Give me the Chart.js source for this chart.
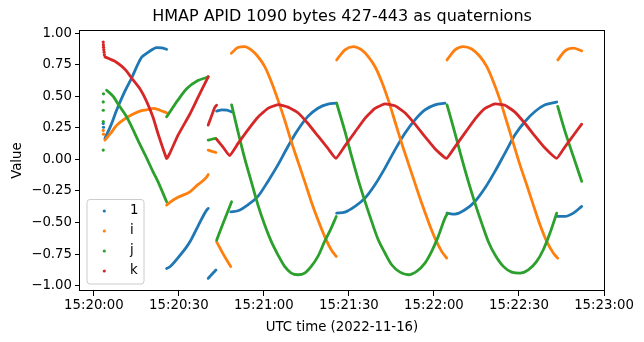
<!DOCTYPE html>
<html><head><meta charset="utf-8">
<script src="https://cdn.jsdelivr.net/npm/chart.js@4/dist/chart.umd.min.js"></script>
<style>html,body{margin:0;padding:0;background:#fff;overflow:hidden}</style>
</head><body>
<canvas id="c" width="644" height="342"></canvas>
<script>
// ---- data (seconds after 15:20:00 UTC, value); null = gap between runs ----
const seriesNames = ['1', 'i', 'j', 'k'];
const seriesColors = ['#1f77b4', '#ff7f0e', '#2ca02c', '#d62728'];
const xTickValues = [0, 30, 60, 90, 120, 150, 180];
const xTickLabels = ['15:20:00', '15:20:30', '15:21:00', '15:21:30', '15:22:00', '15:22:30', '15:23:00'];
const yTickValues = [-1, -0.75, -0.5, -0.25, 0, 0.25, 0.5, 0.75, 1];
const yTickLabels = ['\u22121.00', '\u22120.75', '\u22120.50', '\u22120.25', '0.00', '0.25', '0.50', '0.75', '1.00'];

const oneT = [3.3, null, 3.4, null,
  3.88, 6.0, 8.01, 10.5, 13.31, 16.84, 18.6, 20.93, 22.13, 23.9, 25.66, null,
  25.66, 26.82, 29.65, 32.72, 33.88, 36.7, 39.78, 40.34, null,
  40.34, 41.65, 43.06, null,
  43.31, 45.18, 46.9, 48.6, null,
  48.3, 50.82, 54.35, 57.88, 61.41, 64.94, 68.47, 72.0, 75.53, 79.06, 82.59, 85.52, null,
  85.66, 88.59, 92.12, 95.65, 99.18, 102.71, 106.24, 109.76, 113.29, 116.82, 120.35, 123.88, null,
  124.6, 127.41, 130.94, 134.47, 138.0, 141.53, 145.06, 148.59, 152.12, 155.65, 159.18, 163.31, null,
  163.4, 166.24, 169.17, 172.13];
const oneV = [0.285, null, 0.255, null,
  0.166, 0.27, 0.39, 0.52, 0.645, 0.81, 0.84, 0.875, 0.887, 0.885, 0.873, null,
  -0.864, -0.851, -0.78, -0.693, -0.653, -0.53, -0.402, -0.388, null,
  -0.943, -0.91, -0.877, null,
  0.383, 0.393, 0.39, 0.377, null,
  -0.415, -0.407, -0.36, -0.293, -0.174, -0.043, 0.103, 0.235, 0.341, 0.406, 0.438, 0.446, null,
  -0.426, -0.418, -0.372, -0.307, -0.201, -0.069, 0.076, 0.208, 0.314, 0.393, 0.433, 0.446, null,
  -0.426, -0.433, -0.399, -0.333, -0.227, -0.095, 0.05, 0.195, 0.301, 0.38, 0.433, 0.455, null,
  -0.452, -0.452, -0.426, -0.372];

const iT = [3.3, null, 3.4, null,
  3.88, 6.0, 8.01, 11.5, 13.87, 16.5, 19.76, 20.93, 23.29, 25.66, null,
  25.66, 26.82, 29.65, 33.88, 36.7, 39.78, 40.34, null,
  40.34, 43.06, null,
  43.31, 45.5, 48.3, null,
  48.5, 50.82, 53.19, 55.52, 57.88, 60.25, 62.58, 64.94, 67.31, 69.64, 72.0, 74.37, 76.69, 79.06, 81.42, 83.75, 85.52, null,
  85.66, 88.59, 91.52, 94.48, 96.81, 99.18, 101.54, 103.87, 106.24, 108.6, 110.93, 113.29, 115.66, 117.99, 120.35, 122.72, 124.48, null,
  124.6, 127.41, 130.34, 133.31, 136.24, 138.6, 140.93, 143.29, 145.66, 147.99, 150.35, 152.72, 155.05, 157.41, 159.78, 162.11, 163.66, null,
  163.7, 166.24, 169.17, 172.13];
const iV = [0.23, null, 0.2, null,
  0.153, 0.21, 0.27, 0.33, 0.36, 0.385, 0.398, 0.404, 0.39, 0.37, null,
  -0.362, -0.34, -0.3, -0.257, -0.2, -0.14, -0.12, null,
  0.074, 0.055, null,
  -0.653, -0.745, -0.85, null,
  0.842, 0.887, 0.895, 0.869, 0.816, 0.737, 0.618, 0.472, 0.314, 0.143, -0.016, -0.174, -0.333, -0.479, -0.61, -0.716, -0.769, null,
  0.789, 0.869, 0.895, 0.869, 0.816, 0.737, 0.618, 0.472, 0.301, 0.129, -0.029, -0.188, -0.346, -0.491, -0.624, -0.729, -0.782, null,
  0.789, 0.869, 0.895, 0.876, 0.816, 0.737, 0.618, 0.472, 0.301, 0.129, -0.043, -0.201, -0.36, -0.518, -0.65, -0.742, -0.782, null,
  0.789, 0.861, 0.882, 0.861];

const jT = [3.3, null, 3.3, null, 3.3, null, 3.3, null, 3.4, null,
  4.48, 6.81, 8.5, 11.54, 13.3, 16.24, 18.0, 20.93, 22.69, 25.66, null,
  25.66, 26.82, 29.65, 32.72, 36.7, 39.78, 40.34, null,
  40.34, 41.65, 43.06, null,
  43.31, 45.88, 48.6, null,
  48.6, 50.82, 53.19, 55.52, 57.88, 60.25, 62.58, 64.94, 67.31, 69.64, 72.0, 74.37, 76.69, 79.06, 81.42, 83.75, 85.52, null,
  85.66, 88.59, 90.95, 93.28, 95.65, 98.01, 100.34, 102.71, 105.07, 108.0, 110.93, 113.89, 116.82, 119.19, 121.52, 123.88, 124.84, null,
  124.6, 127.41, 129.78, 132.11, 134.47, 136.84, 139.16, 141.53, 144.46, 147.42, 150.35, 153.28, 156.25, 158.58, 160.94, 163.31, null,
  163.66, 166.24, 169.17, 172.13];
const jV = [0.456, null, 0.39, null, 0.3, null, 0.074, null, 0.52, null,
  0.549, 0.5, 0.44, 0.338, 0.26, 0.12, 0.04, -0.1, -0.18, -0.336, null,
  0.338, 0.377, 0.47, 0.56, 0.625, 0.65, 0.655, null,
  0.153, 0.16, 0.166, null,
  -0.64, -0.49, -0.336, null,
  0.433, 0.222, 0.01, -0.174, -0.36, -0.518, -0.65, -0.756, -0.848, -0.901, -0.914, -0.901, -0.848, -0.769, -0.65, -0.544, -0.452, null,
  0.446, 0.222, 0.024, -0.162, -0.333, -0.491, -0.637, -0.742, -0.835, -0.893, -0.914, -0.887, -0.822, -0.729, -0.61, -0.465, -0.426, null,
  0.433, 0.208, 0.01, -0.174, -0.346, -0.505, -0.65, -0.756, -0.848, -0.893, -0.901, -0.875, -0.808, -0.716, -0.584, -0.426, null,
  0.42, 0.222, 0.024, -0.174];

const kT = [3.3, null, 3.35, null, 3.4, null, 3.5, null, 3.6, null, 3.7, null,
  3.88, 7.41, 9.78, 11.54, 13.31, 16.24, 18.6, 20.93, 22.69, 25.66, 26.82, 29.65, 33.88, 36.7, 40.34, null,
  40.34, 42.6, 43.3, null,
  43.31, 45.5, 47.89, 50.82, 54.35, 57.88, 61.41, 64.94, 68.47, 72.0, 75.53, 79.06, 82.59, 85.4,
  88.59, 92.12, 95.65, 99.18, 102.71, 106.24, 109.76, 113.29, 116.82, 120.35, 124.4,
  127.41, 130.94, 134.47, 138.0, 141.53, 145.06, 148.59, 152.12, 155.65, 159.18, 163.3,
  166.24, 169.17, 172.13];
const kV = [0.93, null, 0.91, null, 0.89, null, 0.87, null, 0.85, null, 0.83, null,
  0.813, 0.779, 0.74, 0.7, 0.645, 0.56, 0.46, 0.33, 0.2, 0.008, 0.05, 0.19, 0.36, 0.49, 0.655, null,
  0.272, 0.41, 0.43, null,
  0.16, 0.1, 0.03, 0.125, 0.235, 0.335, 0.405, 0.435, 0.415, 0.37, 0.285, 0.186, 0.087, 0.008,
  0.107, 0.217, 0.326, 0.405, 0.44, 0.425, 0.37, 0.28, 0.18, 0.085, 0.008,
  0.1, 0.21, 0.32, 0.405, 0.44, 0.43, 0.375, 0.285, 0.185, 0.09, 0.008,
  0.1, 0.19, 0.28];

const seriesT = [oneT, iT, jT, kT];
const seriesV = [oneV, iV, jV, kV];

// ---- build ----
function toPoints(ts, vs) {
  let last = 0;
  return ts.map((t, i) => {
    if (t === null || vs[i] === null) return { x: last, y: null };
    last = t;
    return { x: t, y: vs[i] };
  });
}
function isolated(pts, i) {
  const p = pts[i];
  if (!p || p.y === null) return false;
  const a = pts[i - 1], b = pts[i + 1];
  return (!a || a.y === null) && (!b || b.y === null);
}

const FONT = 'DejaVu Sans';
const datasets = seriesNames.map((name, s) => {
  const pts = toPoints(seriesT[s], seriesV[s]);
  const ds = {
    label: name,
    data: pts,
    showLine: true,
    spanGaps: false,
    borderColor: seriesColors[s],
    backgroundColor: seriesColors[s],
    borderWidth: 2.8,
    borderCapStyle: 'round',
    borderJoinStyle: 'round',
    pointRadius: (ctx) => isolated(pts, ctx.dataIndex) ? 1.6 : 0,
    pointBorderWidth: 0,
    pointHoverRadius: 0,
    order: 4 - s
  };
  if (s < 3) ds.cubicInterpolationMode = 'monotone';
  else ds.tension = 0.12;
  return ds;
});

const framePlugin = {
  id: 'frame',
  afterDraw(chart) {
    const { ctx, chartArea: a } = chart;
    ctx.save();
    ctx.strokeStyle = '#000';
    ctx.lineWidth = 1;
    ctx.strokeRect(Math.round(a.left) - 0.5, Math.round(a.top) + 0.5,
      Math.round(a.right - a.left) + 1, Math.round(a.bottom - a.top) - 1);
    ctx.restore();
  }
};

const legendPlugin = {
  id: 'boxLegend',
  afterDatasetsDraw(chart) {
    const { ctx, chartArea: a } = chart;
    const bx = a.left + 6.5, bw = 57, bh = 84.5, by = a.bottom - 7.5 - bh;
    ctx.save();
    ctx.beginPath();
    ctx.roundRect(bx + 0.5, by + 0.5, bw, bh, 3);
    ctx.fillStyle = 'rgba(255,255,255,0.8)';
    ctx.fill();
    ctx.strokeStyle = '#cccccc';
    ctx.lineWidth = 1;
    ctx.stroke();
    ctx.font = '13.3px "' + FONT + '"';
    ctx.textBaseline = 'middle';
    ctx.textAlign = 'left';
    seriesNames.forEach((name, s) => {
      const cy = by + 11.5 + s * 20;
      ctx.beginPath();
      ctx.arc(bx + 17.8, cy + 0.5, 1.6, 0, Math.PI * 2);
      ctx.fillStyle = seriesColors[s];
      ctx.fill();
      ctx.fillStyle = '#000';
      ctx.fillText(name, bx + 43.5, cy);
    });
    ctx.restore();
  }
};

new Chart(document.getElementById('c'), {
  type: 'scatter',
  data: { datasets },
  plugins: [legendPlugin, framePlugin],
  options: {
    responsive: false,
    animation: false,
    devicePixelRatio: 1,
    layout: { padding: { left: 4, right: 40, top: 0, bottom: 4 } },
    plugins: {
      legend: { display: false },
      tooltip: { enabled: false },
      title: {
        display: true,
        fullSize: false,
        text: 'HMAP APID 1090 bytes 427-443 as quaternions',
        color: '#000',
        font: { family: FONT, size: 16, weight: 'normal' },
        padding: { top: 7, bottom: 4 }
      }
    },
    scales: {
      x: {
        type: 'linear',
        min: -4.9,
        max: 180,
        afterFit: (s) => { s.height = 47; },
        afterBuildTicks: (s) => { s.ticks = xTickValues.map(v => ({ value: v })); },
        ticks: {
          autoSkip: false, maxRotation: 0, minRotation: 0, padding: 2,
          color: '#000', font: { family: FONT, size: 13.3 },
          callback: (v, i) => xTickLabels[i]
        },
        grid: { display: true, drawOnChartArea: false, drawTicks: true, tickLength: 5, tickColor: '#000', tickWidth: 1 },
        border: { display: false },
        title: { display: true, text: 'UTC time (2022-11-16)', color: '#000',
          font: { family: FONT, size: 13.3 }, padding: { top: 2, bottom: 2 } }
      },
      y: {
        type: 'linear',
        min: -1.043,
        max: 1.0245,
        afterFit: (s) => { s.width = 76; },
        afterBuildTicks: (s) => { s.ticks = yTickValues.map(v => ({ value: v })); },
        ticks: {
          autoSkip: false, padding: 3,
          color: '#000', font: { family: FONT, size: 13.3 },
          callback: (v, i) => yTickLabels[i]
        },
        grid: { display: true, drawOnChartArea: false, drawTicks: true, tickLength: 5, tickColor: '#000', tickWidth: 1 },
        border: { display: false },
        title: { display: true, text: 'Value', color: '#000',
          font: { family: FONT, size: 13.3 }, padding: { top: 6, bottom: 4 } }
      }
    }
  }
});
</script>
</body></html>
